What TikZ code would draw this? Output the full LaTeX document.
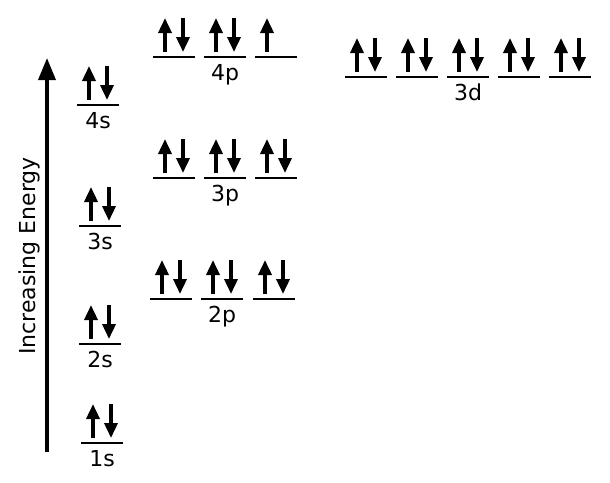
\documentclass[tikz,border=0pt]{standalone}
\usepackage{fontspec}
\setmainfont{DejaVu Sans}
\usepackage{tikz}
\usetikzlibrary{arrows.meta, positioning}

\begin{document}
\begin{tikzpicture}[
  x=1pt, y=-1pt,
  level/.style={line width=2pt},
  spin/.style={line width=3.5pt, -{Triangle[width=13pt, length=15pt]}},
  energy/.style={line width=3.5pt, -{Triangle[width=17pt, length=22pt]}},
  lbl/.style={anchor=base, inner sep=0pt, font=\fontsize{22}{26}\selectfont}
]
  \useasboundingbox (0,0) rectangle (610,482);

  % energy axis
  \coordinate (ebot) at (47,452);
  \coordinate (etop) at (47,58);
  \draw[energy] (ebot) -- (etop);
  \node[lbl, anchor=center, rotate=90] (elabel) at (29,256) {Increasing Energy};

  % filled orbitals
  \foreach \cx/\cy in {98/105, 100/226, 100/344, 102/443,
                       171/299, 222/299, 274/299,
                       174/178, 225/178, 276/178,
                       174/57, 225/57,
                       366/77, 417/77, 468/77, 519/77, 570/77} {
    \draw[level] (\cx-21,\cy) -- (\cx+21,\cy);
    \draw[spin] (\cx-9,\cy-5) -- (\cx-9,\cy-39);
    \draw[spin] (\cx+9,\cy-39) -- (\cx+9,\cy-5);
  }
  % half filled orbital
  \draw[level] (255,57) -- (297,57);
  \draw[spin] (267,52) -- (267,18);

  % subshell labels
  \node[lbl] (l1s) at (102,466) {1s};
  \node[lbl] (l2s) at (100,367) {2s};
  \node[lbl] (l3s) at (100,249) {3s};
  \node[lbl] (l4s) at (98,128) {4s};
  \node[lbl] (l2p) at (222,322) {2p};
  \node[lbl] (l3p) at (225,201) {3p};
  \node[lbl] (l4p) at (225,80) {4p};
  \node[lbl] (l3d) at (468,100) {3d};
\end{tikzpicture}
\end{document}
